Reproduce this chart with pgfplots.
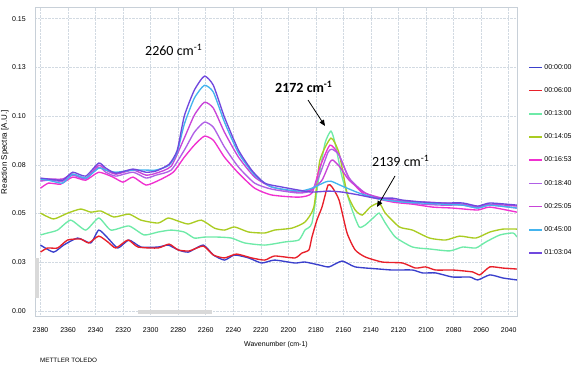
\documentclass[border=0pt]{standalone}
\usepackage{pgfplots}
\pgfplotsset{compat=1.18}
\usepackage{fontspec}
\setmainfont{Liberation Sans}
\newfontfamily\calfont{Carlito}
\usetikzlibrary{arrows.meta}
\definecolor{cA}{HTML}{3A40CC}
\definecolor{cB}{HTML}{E8202A}
\definecolor{cC}{HTML}{6EEAA8}
\definecolor{cD}{HTML}{AACC22}
\definecolor{cE}{HTML}{F030D0}
\definecolor{cF}{HTML}{B060E6}
\definecolor{cG}{HTML}{C844D8}
\definecolor{cH}{HTML}{44B4EE}
\definecolor{cI}{HTML}{7048DE}
\definecolor{gridc}{HTML}{D2DAE2}
\definecolor{framec}{HTML}{C8D0D8}
\begin{document}
\begin{tikzpicture}[x=1pt,y=1pt]
\begin{axis}[
  scale only axis,
  width=482pt, height=309pt,
  x dir=reverse, xmin=2034, xmax=2384, ymin=-0.0026, ymax=0.156,
  xtick={2040,2060,2080,2100,2120,2140,2160,2180,2200,2220,2240,2260,2280,2300,2320,2340,2360,2380},
  xticklabels={2040,2060,2080,2100,2120,2140,2160,2180,2200,2220,2240,2260,2280,2300,2320,2340,2360,2380},
  ytick={0,0.025,0.05,0.075,0.1,0.125,0.15},
  yticklabels={0.00,0.03,0.05,0.08,0.10,0.13,0.15},
  major tick length=0pt,
  grid=major, major grid style={draw=gridc, densely dotted, line width=0.6pt},
  axis line style={draw=framec},
  ticklabel style={font=\fontsize{7}{8}\selectfont},
  xticklabel style={yshift=-8pt},
  yticklabel style={xshift=-5.7pt},
  xlabel={Wavenumber (cm-1)},
  ylabel={Reaction Spectra [A.U.]},
  xlabel style={font=\fontsize{7}{8}\selectfont, yshift=-2pt},
  ylabel style={at={(ticklabel cs:0.53)}, inner sep=0pt, font=\fontsize{8}{9}\selectfont},
  legend style={at={(1.023,0.822)}, anchor=north west, draw=none, fill=none, inner sep=0pt,
     font=\fontsize{7}{8}\selectfont, row sep=12.8pt, legend cell align=left},
  legend image code/.code={\draw[line width=1.6pt] (0pt,0pt) -- (12.5pt,0pt);},
  every axis plot/.append style={line width=1.35pt, smooth, tension=0.35, no markers},
  clip=true,
]
\addplot[cA] coordinates {
(2380,0.0338)(2370.5,0.0302)(2363.2,0.0338)(2353.0,0.0374)(2343.5,0.0349)(2337.7,0.0415)
(2331.1,0.0374)(2323.8,0.0323)(2315.8,0.0364)(2307.0,0.0328)(2294.6,0.0328)(2287.3,0.0338)
(2280.0,0.0313)(2272.7,0.0302)(2261.8,0.0338)(2254.5,0.0287)(2246.4,0.0261)(2239.1,0.0287)
(2228.9,0.0272)(2219.4,0.0246)(2210.0,0.0261)(2195.3,0.0246)(2188.0,0.0251)(2177.8,0.0236)
(2170.5,0.0226)(2161.0,0.0256)(2151.5,0.0226)(2134.0,0.0215)(2124.5,0.0210)(2109.9,0.0210)
(2102.6,0.0195)(2093.1,0.0195)(2080.7,0.0174)(2068.2,0.0174)(2062.5,0.0159)(2053.7,0.0185)
(2044.2,0.0169)(2034,0.0159)};
\addlegendentry{00:00:00}
\addplot[cB] coordinates {
(2380,0.0302)(2374.9,0.0323)(2367.6,0.0323)(2360.3,0.0364)(2350.8,0.0369)(2345.0,0.0349)
(2337.7,0.0384)(2331.1,0.0354)(2325.3,0.0323)(2316.5,0.0364)(2309.2,0.0328)(2294.6,0.0323)
(2286.6,0.0343)(2280.0,0.0313)(2272.0,0.0308)(2261.8,0.0333)(2254.5,0.0287)(2246.4,0.0272)
(2237.7,0.0292)(2226.7,0.0272)(2217.2,0.0261)(2210.0,0.0282)(2195.3,0.0272)(2190.2,0.0297)
(2185.1,0.0313)(2182.9,0.0379)(2179.3,0.0466)(2175.6,0.0533)(2171.2,0.0646)(2168.3,0.0636)
(2163.2,0.0569)(2157.4,0.0400)(2151.5,0.0313)(2144.2,0.0277)(2131.8,0.0251)(2117.2,0.0246)
(2107.7,0.0220)(2100.4,0.0226)(2093.1,0.0210)(2080.7,0.0210)(2066.1,0.0200)(2061.0,0.0185)
(2053.7,0.0226)(2044.2,0.0220)(2034,0.0215)};
\addlegendentry{00:06:00}
\addplot[cC] coordinates {
(2380,0.0390)(2374.9,0.0400)(2367.6,0.0415)(2358.1,0.0466)(2347.2,0.0415)(2337.7,0.0477)
(2328.9,0.0415)(2315.8,0.0436)(2304.8,0.0390)(2294.6,0.0405)(2285.1,0.0415)(2275.6,0.0405)
(2268.3,0.0374)(2261.0,0.0379)(2250.8,0.0379)(2241.3,0.0374)(2231.8,0.0349)(2217.2,0.0338)
(2202.6,0.0354)(2192.4,0.0364)(2188.0,0.0415)(2182.9,0.0451)(2177.8,0.0687)(2173.4,0.0861)
(2169.1,0.0923)(2166.1,0.0861)(2161.0,0.0687)(2153.7,0.0518)(2148.6,0.0431)(2144.2,0.0441)
(2137.7,0.0482)(2134.0,0.0502)(2129.6,0.0451)(2122.3,0.0379)(2109.9,0.0328)(2097.5,0.0318)
(2082.9,0.0308)(2073.4,0.0328)(2063.9,0.0323)(2056.6,0.0354)(2046.4,0.0390)(2036.9,0.0400)
(2034,0.0379)};
\addlegendentry{00:13:00}
\addplot[cD] coordinates {
(2380,0.0502)(2370.5,0.0472)(2360.3,0.0502)(2350.8,0.0523)(2343.5,0.0507)(2336.2,0.0513)
(2326.7,0.0482)(2315.8,0.0497)(2307.0,0.0466)(2294.6,0.0451)(2287.3,0.0477)(2280.0,0.0461)
(2272.7,0.0446)(2263.2,0.0466)(2253.7,0.0425)(2246.4,0.0415)(2239.1,0.0431)(2228.9,0.0405)
(2217.2,0.0400)(2210.0,0.0415)(2197.5,0.0425)(2188.0,0.0456)(2181.5,0.0533)(2177.1,0.0774)
(2169.1,0.0887)(2163.2,0.0810)(2157.4,0.0605)(2151.5,0.0518)(2146.4,0.0492)(2140.6,0.0533)
(2134.0,0.0554)(2129.6,0.0502)(2119.4,0.0431)(2109.9,0.0415)(2097.5,0.0374)(2085.8,0.0364)
(2075.6,0.0384)(2063.9,0.0374)(2053.7,0.0405)(2044.2,0.0420)(2034,0.0420)};
\addlegendentry{00:14:05}
\addplot[cE] coordinates {
(2380,0.0630)(2374.2,0.0656)(2365.4,0.0651)(2356.6,0.0687)(2347.2,0.0671)(2337.7,0.0712)
(2327.4,0.0687)(2320.1,0.0661)(2312.8,0.0687)(2303.4,0.0646)(2293.9,0.0671)(2283.6,0.0712)
(2275.6,0.0789)(2268.3,0.0851)(2261.0,0.0897)(2254.5,0.0876)(2246.4,0.0789)(2236.2,0.0707)
(2224.5,0.0630)(2212.1,0.0595)(2192.4,0.0584)(2182.9,0.0605)(2177.1,0.0738)(2169.8,0.0851)
(2163.2,0.0800)(2155.9,0.0682)(2144.2,0.0595)(2124.5,0.0559)(2109.9,0.0548)(2095.3,0.0533)
(2080.7,0.0528)(2062.5,0.0518)(2053.7,0.0533)(2034,0.0507)};
\addlegendentry{00:16:53}
\addplot[cF] coordinates {
(2380,0.0666)(2374.2,0.0671)(2364.0,0.0666)(2356.6,0.0697)(2347.2,0.0677)(2337.7,0.0738)
(2332.6,0.0712)(2325.3,0.0692)(2312.8,0.0712)(2303.4,0.0682)(2296.1,0.0697)(2285.1,0.0723)
(2275.6,0.0825)(2268.3,0.0917)(2261.0,0.0969)(2254.5,0.0943)(2246.4,0.0841)(2236.2,0.0738)
(2224.5,0.0656)(2212.1,0.0625)(2192.4,0.0605)(2182.9,0.0620)(2177.1,0.0702)(2171.2,0.0815)
(2168.3,0.0830)(2163.2,0.0800)(2155.9,0.0682)(2144.2,0.0605)(2131.8,0.0574)(2117.2,0.0559)
(2102.6,0.0548)(2088.0,0.0543)(2073.4,0.0543)(2062.5,0.0528)(2053.7,0.0543)(2034,0.0528)};
\addlegendentry{00:18:40}
\addplot[cG] coordinates {
(2380,0.0671)(2374.2,0.0677)(2364.0,0.0677)(2356.6,0.0702)(2347.2,0.0682)(2337.7,0.0748)
(2332.6,0.0723)(2325.3,0.0702)(2312.8,0.0723)(2303.4,0.0697)(2296.1,0.0707)(2285.1,0.0743)
(2275.6,0.0887)(2268.3,0.1005)(2261.0,0.1071)(2254.5,0.1041)(2246.4,0.0917)(2236.2,0.0789)
(2224.5,0.0687)(2212.1,0.0636)(2192.4,0.0610)(2182.9,0.0625)(2175.6,0.0671)(2169.8,0.0764)
(2167.6,0.0774)(2162.5,0.0738)(2155.9,0.0671)(2144.2,0.0605)(2131.8,0.0579)(2117.2,0.0564)
(2102.6,0.0559)(2088.0,0.0554)(2073.4,0.0548)(2062.5,0.0533)(2053.7,0.0548)(2034,0.0538)};
\addlegendentry{00:25:05}
\addplot[cH] coordinates {
(2380,0.0677)(2374.2,0.0671)(2364.0,0.0656)(2356.6,0.0702)(2347.2,0.0682)(2337.7,0.0733)
(2332.6,0.0723)(2325.3,0.0712)(2312.8,0.0723)(2303.4,0.0723)(2296.1,0.0723)(2286.6,0.0748)
(2280.7,0.0815)(2275.6,0.0958)(2268.3,0.1092)(2261.0,0.1158)(2254.5,0.1123)(2246.4,0.0969)
(2236.2,0.0810)(2224.5,0.0697)(2212.1,0.0636)(2192.4,0.0615)(2182.9,0.0630)(2173.4,0.0661)
(2169.1,0.0666)(2161.0,0.0641)(2148.6,0.0605)(2134.0,0.0574)(2117.2,0.0559)(2102.6,0.0554)
(2088.0,0.0548)(2073.4,0.0543)(2062.5,0.0528)(2053.7,0.0543)(2034,0.0528)};
\addlegendentry{00:45:00}
\addplot[cI] coordinates {
(2380,0.0682)(2374.2,0.0677)(2364.0,0.0671)(2356.6,0.0712)(2347.2,0.0692)(2337.7,0.0759)
(2332.6,0.0733)(2325.3,0.0707)(2312.8,0.0728)(2303.4,0.0712)(2296.1,0.0718)(2286.6,0.0753)
(2280.7,0.0825)(2275.6,0.1000)(2268.3,0.1133)(2261.0,0.1205)(2254.5,0.1158)(2246.4,0.0994)
(2236.2,0.0825)(2226.7,0.0723)(2217.2,0.0656)(2204.8,0.0636)(2192.4,0.0620)(2182.9,0.0610)
(2170.5,0.0615)(2161.0,0.0610)(2148.6,0.0595)(2136.9,0.0579)(2124.5,0.0579)(2117.2,0.0569)
(2102.6,0.0559)(2088.0,0.0554)(2073.4,0.0554)(2062.5,0.0538)(2053.7,0.0554)(2034,0.0543)};
\addlegendentry{01:03:04}
\end{axis}
\begin{scope}[shift={(-35,-55)}]
% scrollbars of the instrument window
\fill[black!15] (35.5,73) rectangle (39.5,113);
\fill[black!15] (138,57) rectangle (212,60.5);
% annotations
\node[anchor=west, inner sep=0pt, font=\calfont\fontsize{14}{16}\selectfont] at (145,321) {2260 cm\textsuperscript{-1}};
\node[anchor=west, inner sep=0pt, font=\calfont\bfseries\fontsize{14}{16}\selectfont] at (275,284) {2172 cm\textsuperscript{-1}};
\node[anchor=west, inner sep=0pt, font=\calfont\fontsize{14}{16}\selectfont] at (372,210) {2139 cm\textsuperscript{-1}};
\draw[-{Triangle[length=6pt,width=5pt]}, line width=0.8pt] (308,271) -- (325,245);
\draw[-{Triangle[length=6pt,width=5pt]}, line width=0.8pt] (395,195) -- (377,164);
\node[anchor=west, inner sep=0pt, font=\fontsize{6.3}{7}\selectfont] at (40,11) {METTLER TOLEDO};
\pgfresetboundingbox
\path[use as bounding box] (0,0) rectangle (586,371);
\end{scope}
\end{tikzpicture}
\end{document}
